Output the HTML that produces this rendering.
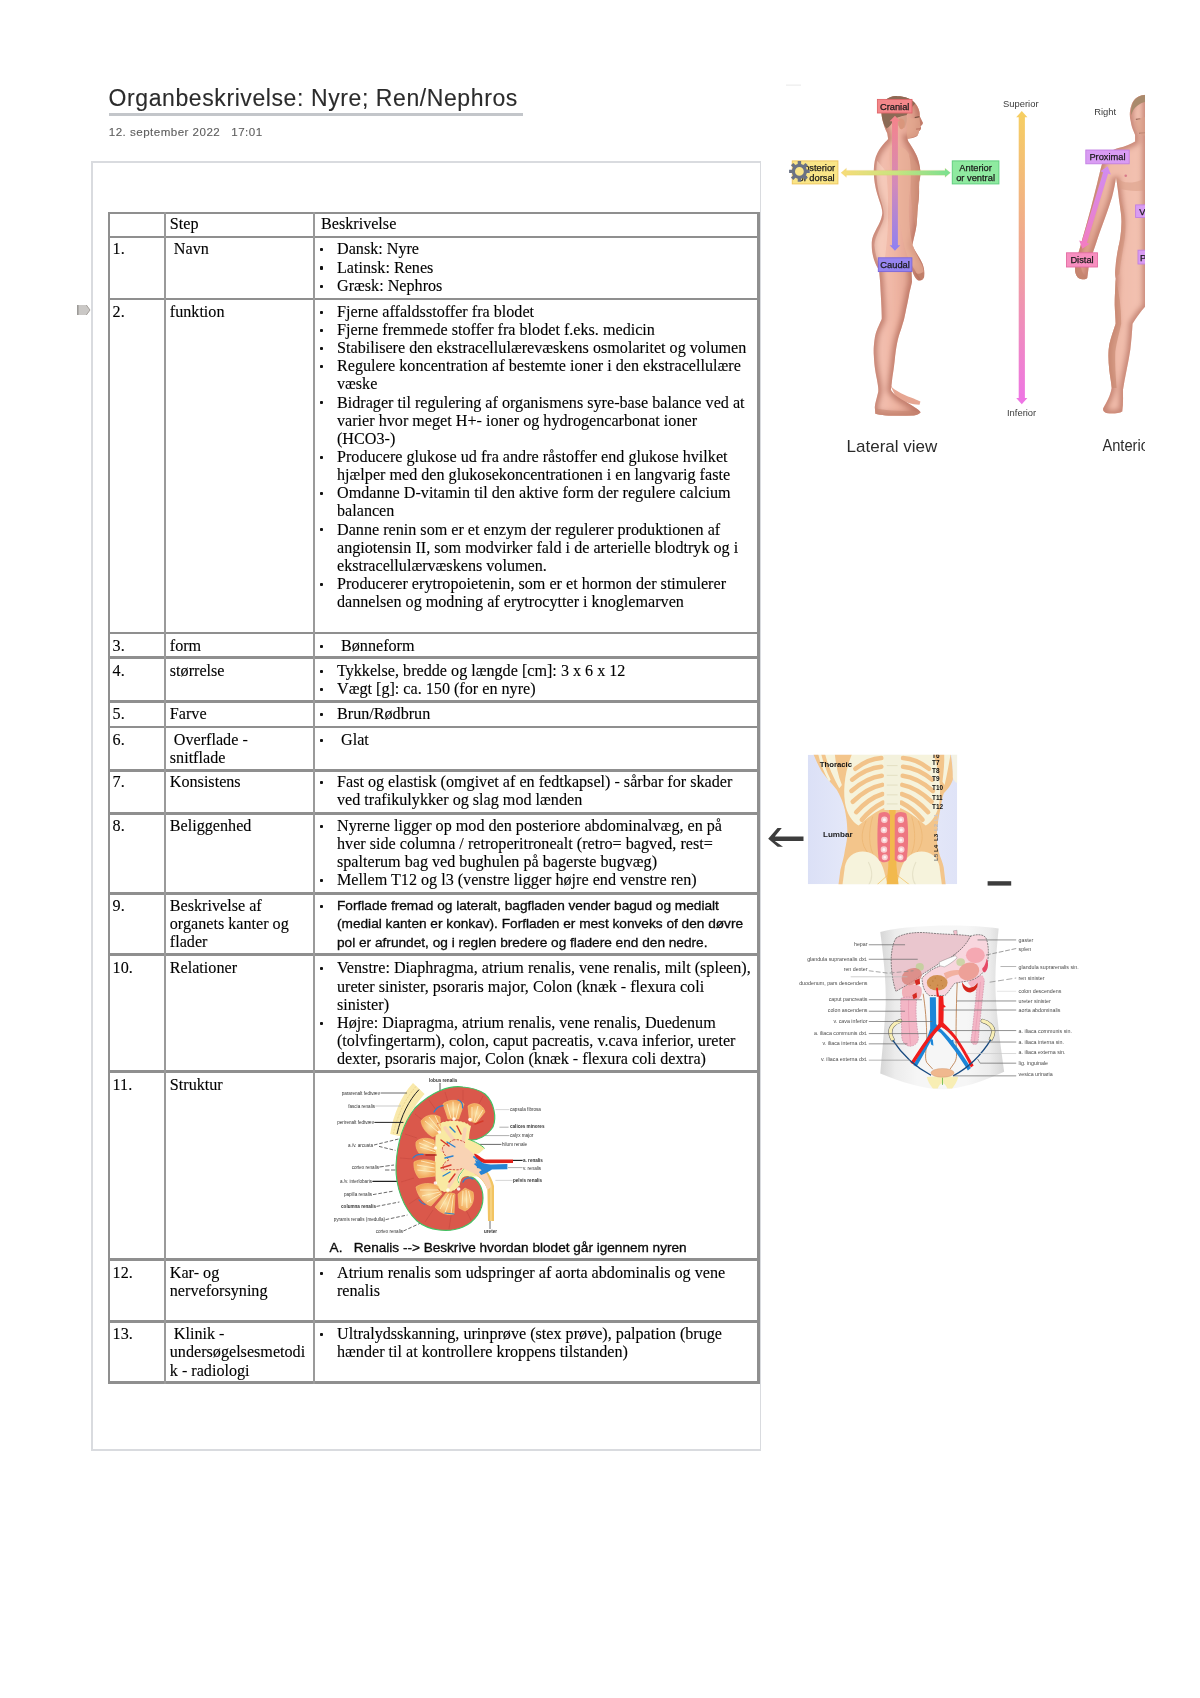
<!DOCTYPE html>
<html lang="da">
<head>
<meta charset="utf-8">
<title>Organbeskrivelse: Nyre; Ren/Nephros</title>
<style>
html,body{margin:0;padding:0;background:#fff;}
body{width:1200px;height:1698px;position:relative;overflow:hidden;font-family:"Liberation Serif",serif;}
#pg{will-change:transform;transform:translateZ(0);}
#pg div{position:absolute;white-space:pre;font-family:"Liberation Serif",serif;-webkit-text-stroke:0.12px currentColor;}
#pg div.s{font-family:"Liberation Sans",sans-serif;}
#pg i{position:absolute;display:block;}
#pg i.b{width:3.1px;height:3.1px;background:#111;border-radius:0.9px;}
#pg svg{position:absolute;overflow:visible;}
</style>
</head>
<body>
<div id="pg">

<div class="s" style="left:108.60px;top:84.13px;font-size:23px;line-height:28px;color:#2b2b2b;letter-spacing:0.59px;">Organbeskrivelse: Nyre; Ren/Nephros</div>
<i style="left:109.00px;top:113.40px;width:414.00px;height:2.20px;background:#c3c6ca"></i>
<div class="s" style="left:108.80px;top:125.48px;font-size:11.6px;line-height:14px;color:#5e5e5e;letter-spacing:0.46px;">12. september 2022   17:01</div>
<i style="left:91.50px;top:161.30px;width:669.70px;height:1.70px;background:#d9dbdf"></i>
<i style="left:91.50px;top:1449.20px;width:669.70px;height:1.70px;background:#d9dbdf"></i>
<i style="left:91.40px;top:161.30px;width:1.80px;height:1289.60px;background:#d9dbdf"></i>
<i style="left:759.70px;top:161.30px;width:1.50px;height:1289.60px;background:#d9dbdf"></i>
<i style="left:107.60px;top:212.00px;width:652.40px;height:1.80px;background:#8f8f8f"></i>
<i style="left:107.60px;top:235.50px;width:652.40px;height:2.50px;background:#8f8f8f"></i>
<i style="left:107.60px;top:297.60px;width:652.40px;height:2.80px;background:#8f8f8f"></i>
<i style="left:107.60px;top:631.60px;width:652.40px;height:2.90px;background:#8f8f8f"></i>
<i style="left:107.60px;top:656.00px;width:652.40px;height:3.30px;background:#8f8f8f"></i>
<i style="left:107.60px;top:700.40px;width:652.40px;height:3.10px;background:#8f8f8f"></i>
<i style="left:107.60px;top:725.50px;width:652.40px;height:2.90px;background:#8f8f8f"></i>
<i style="left:107.60px;top:768.50px;width:652.40px;height:3.10px;background:#8f8f8f"></i>
<i style="left:107.60px;top:811.60px;width:652.40px;height:3.00px;background:#8f8f8f"></i>
<i style="left:107.60px;top:891.50px;width:652.40px;height:3.10px;background:#8f8f8f"></i>
<i style="left:107.60px;top:953.10px;width:652.40px;height:2.90px;background:#8f8f8f"></i>
<i style="left:107.60px;top:1070.00px;width:652.40px;height:2.50px;background:#8f8f8f"></i>
<i style="left:107.60px;top:1258.40px;width:652.40px;height:2.70px;background:#8f8f8f"></i>
<i style="left:107.60px;top:1320.20px;width:652.40px;height:3.30px;background:#8f8f8f"></i>
<i style="left:107.60px;top:1381.00px;width:652.40px;height:3.20px;background:#8f8f8f"></i>
<i style="left:107.60px;top:212.00px;width:2.80px;height:1172.20px;background:#8f8f8f"></i>
<i style="left:164.00px;top:212.00px;width:2.00px;height:1172.20px;background:#9a9a9a"></i>
<i style="left:312.60px;top:212.00px;width:2.30px;height:1172.20px;background:#9a9a9a"></i>
<i style="left:757.00px;top:212.00px;width:3.00px;height:1172.20px;background:#8f8f8f"></i>
<div style="left:169.80px;top:215.47px;font-size:16.15px;line-height:18.15px;color:#000;">Step</div>
<div style="left:321.00px;top:215.47px;font-size:16.15px;line-height:18.15px;color:#000;">Beskrivelse</div>
<div style="left:112.60px;top:240.47px;font-size:16.15px;line-height:18.15px;color:#000;">1.</div>
<div style="left:169.80px;top:240.47px;font-size:16.15px;line-height:18.15px;color:#000;"> Navn</div>
<div style="left:337.00px;top:240.47px;font-size:16.15px;line-height:18.15px;color:#000;">Dansk: Nyre<br>Latinsk: Renes<br>Græsk: Nephros</div>
<i class="b" style="left:319.70px;top:248.30px"></i>
<i class="b" style="left:319.70px;top:266.45px"></i>
<i class="b" style="left:319.70px;top:284.60px"></i>
<div style="left:112.60px;top:302.77px;font-size:16.15px;line-height:18.15px;color:#000;">2.</div>
<div style="left:169.80px;top:302.77px;font-size:16.15px;line-height:18.15px;color:#000;">funktion</div>
<div style="left:337.00px;top:302.77px;font-size:16.15px;line-height:18.15px;color:#000;">Fjerne affaldsstoffer fra blodet<br>Fjerne fremmede stoffer fra blodet f.eks. medicin<br>Stabilisere den ekstracellulærevæskens osmolaritet og volumen<br>Regulere koncentration af bestemte ioner i den ekstracellulære<br>væske<br>Bidrager til regulering af organismens syre-base balance ved at<br>varier hvor meget H+- ioner og hydrogencarbonat ioner<br>(HCO3-)<br>Producere glukose ud fra andre råstoffer end glukose hvilket<br>hjælper med den glukosekoncentrationen i en langvarig faste<br>Omdanne D-vitamin til den aktive form der regulere calcium<br>balancen<br>Danne renin som er et enzym der regulerer produktionen af<br>angiotensin II, som modvirker fald i de arterielle blodtryk og i<br>ekstracellulærvæskens volumen.<br>Producerer erytropoietenin, som er et hormon der stimulerer<br>dannelsen og modning af erytrocytter i knoglemarven</div>
<i class="b" style="left:319.70px;top:310.60px"></i>
<i class="b" style="left:319.70px;top:328.75px"></i>
<i class="b" style="left:319.70px;top:346.90px"></i>
<i class="b" style="left:319.70px;top:365.05px"></i>
<i class="b" style="left:319.70px;top:401.35px"></i>
<i class="b" style="left:319.70px;top:455.80px"></i>
<i class="b" style="left:319.70px;top:492.10px"></i>
<i class="b" style="left:319.70px;top:528.40px"></i>
<i class="b" style="left:319.70px;top:582.85px"></i>
<div style="left:112.60px;top:636.87px;font-size:16.15px;line-height:18.15px;color:#000;">3.</div>
<div style="left:169.80px;top:636.87px;font-size:16.15px;line-height:18.15px;color:#000;">form</div>
<div style="left:337.00px;top:636.87px;font-size:16.15px;line-height:18.15px;color:#000;"> Bønneform</div>
<i class="b" style="left:319.70px;top:644.70px"></i>
<div style="left:112.60px;top:661.67px;font-size:16.15px;line-height:18.15px;color:#000;">4.</div>
<div style="left:169.80px;top:661.67px;font-size:16.15px;line-height:18.15px;color:#000;">størrelse</div>
<div style="left:337.00px;top:661.67px;font-size:16.15px;line-height:18.15px;color:#000;">Tykkelse, bredde og længde [cm]: 3 x 6 x 12<br>Vægt [g]: ca. 150 (for en nyre)</div>
<i class="b" style="left:319.70px;top:669.50px"></i>
<i class="b" style="left:319.70px;top:687.65px"></i>
<div style="left:112.60px;top:705.17px;font-size:16.15px;line-height:18.15px;color:#000;">5.</div>
<div style="left:169.80px;top:705.17px;font-size:16.15px;line-height:18.15px;color:#000;">Farve</div>
<div style="left:337.00px;top:705.17px;font-size:16.15px;line-height:18.15px;color:#000;">Brun/Rødbrun</div>
<i class="b" style="left:319.70px;top:713.00px"></i>
<div style="left:112.60px;top:730.87px;font-size:16.15px;line-height:18.15px;color:#000;">6.</div>
<div style="left:169.80px;top:730.87px;font-size:16.15px;line-height:18.15px;color:#000;"> Overflade -<br>snitflade</div>
<div style="left:337.00px;top:730.87px;font-size:16.15px;line-height:18.15px;color:#000;"> Glat</div>
<i class="b" style="left:319.70px;top:738.70px"></i>
<div style="left:112.60px;top:773.17px;font-size:16.15px;line-height:18.15px;color:#000;">7.</div>
<div style="left:169.80px;top:773.17px;font-size:16.15px;line-height:18.15px;color:#000;">Konsistens</div>
<div style="left:337.00px;top:773.17px;font-size:16.15px;line-height:18.15px;color:#000;">Fast og elastisk (omgivet af en fedtkapsel) - sårbar for skader<br>ved trafikulykker og slag mod lænden</div>
<i class="b" style="left:319.70px;top:781.00px"></i>
<div style="left:112.60px;top:816.87px;font-size:16.15px;line-height:18.15px;color:#000;">8.</div>
<div style="left:169.80px;top:816.87px;font-size:16.15px;line-height:18.15px;color:#000;">Beliggenhed</div>
<div style="left:337.00px;top:816.87px;font-size:16.15px;line-height:18.15px;color:#000;">Nyrerne ligger op mod den posteriore abdominalvæg, en på<br>hver side columna / retroperitronealt (retro= bagved, rest=<br>spalterum bag ved bughulen på bagerste bugvæg)<br>Mellem T12 og l3 (venstre ligger højre end venstre ren)</div>
<i class="b" style="left:319.70px;top:824.70px"></i>
<i class="b" style="left:319.70px;top:879.15px"></i>
<div style="left:112.60px;top:896.97px;font-size:16.15px;line-height:18.15px;color:#000;">9.</div>
<div style="left:169.80px;top:896.97px;font-size:16.15px;line-height:18.15px;color:#000;">Beskrivelse af<br>organets kanter og<br>flader</div>
<div class="s" style="left:337.00px;top:897.29px;font-size:13.66px;line-height:18.15px;color:#0a0a0a;-webkit-text-stroke:0.32px #0a0a0a;">Forflade fremad og lateralt, bagfladen vender bagud og medialt<br>(medial kanten er konkav). Forfladen er mest konveks of den døvre<br>pol er afrundet, og i reglen bredere og fladere end den nedre.</div>
<i class="b" style="left:319.70px;top:904.80px"></i>
<div style="left:112.60px;top:959.37px;font-size:16.15px;line-height:18.15px;color:#000;">10.</div>
<div style="left:169.80px;top:959.37px;font-size:16.15px;line-height:18.15px;color:#000;">Relationer</div>
<div style="left:337.00px;top:959.37px;font-size:16.15px;line-height:18.15px;color:#000;">Venstre: Diaphragma, atrium renalis, vene renalis, milt (spleen),<br>ureter sinister, psoraris major, Colon (knæk - flexura coli<br>sinister)<br>Højre: Diapragma, atrium renalis, vene renalis, Duedenum<br>(tolvfingertarm), colon, caput pacreatis, v.cava inferior, ureter<br>dexter, psoraris major, Colon (knæk - flexura coli dextra)</div>
<i class="b" style="left:319.70px;top:967.20px"></i>
<i class="b" style="left:319.70px;top:1021.65px"></i>
<div style="left:112.60px;top:1075.77px;font-size:16.15px;line-height:18.15px;color:#000;">11.</div>
<div style="left:169.80px;top:1075.77px;font-size:16.15px;line-height:18.15px;color:#000;">Struktur</div>
<div class="s" style="left:329.60px;top:1239.49px;font-size:13.6px;line-height:18px;color:#0a0a0a;-webkit-text-stroke:0.32px #0a0a0a;">A.   Renalis --&gt; Beskrive hvordan blodet går igennem nyren</div>
<div style="left:112.60px;top:1263.97px;font-size:16.15px;line-height:18.15px;color:#000;">12.</div>
<div style="left:169.80px;top:1263.97px;font-size:16.15px;line-height:18.15px;color:#000;">Kar- og<br>nerveforsyning</div>
<div style="left:337.00px;top:1263.97px;font-size:16.15px;line-height:18.15px;color:#000;">Atrium renalis som udspringer af aorta abdominalis og vene<br>renalis</div>
<i class="b" style="left:319.70px;top:1271.80px"></i>
<div style="left:112.60px;top:1325.27px;font-size:16.15px;line-height:18.15px;color:#000;">13.</div>
<div style="left:169.80px;top:1325.27px;font-size:16.15px;line-height:18.15px;color:#000;"> Klinik -<br>undersøgelsesmetodi<br>k - radiologi</div>
<div style="left:337.00px;top:1325.27px;font-size:16.15px;line-height:18.15px;color:#000;">Ultralydsskanning, urinprøve (stex prøve), palpation (bruge<br>hænder til at kontrollere kroppens tilstanden)</div>
<i class="b" style="left:319.70px;top:1333.10px"></i>
<svg style="left:75px;top:303px" width="18" height="14" viewBox="75 303 18 14">
<path d="M77,305 H86.6 L90,310 L86.6,315 H77 Z" fill="#cac8c6"/>
<path d="M77,305 H78.6 V315 H77 Z" fill="#9c9a98"/>
<path d="M86.3,305 L90,310 L86.3,315" fill="none" stroke="#a39e9a" stroke-width="1"/>
</svg>

<svg style="left:785px;top:84px;overflow:hidden" width="360" height="384" viewBox="785 84 360 384" font-family="Liberation Sans, sans-serif">
<defs>
<linearGradient id="skA" x1="0" x2="1" y1="0" y2="0"><stop offset="0" stop-color="#f5c6b8"/><stop offset="0.45" stop-color="#efb5a3"/><stop offset="1" stop-color="#d4927e"/></linearGradient>
<linearGradient id="skB" x1="0" x2="1" y1="0" y2="0"><stop offset="0" stop-color="#dc9c88"/><stop offset="0.5" stop-color="#f0bba9"/><stop offset="1" stop-color="#f3c2b2"/></linearGradient>
<linearGradient id="gV" x1="0" x2="0" y1="0" y2="1"><stop offset="0" stop-color="#f5848a"/><stop offset="0.5" stop-color="#d48ab8"/><stop offset="1" stop-color="#8e80f2"/></linearGradient>
<linearGradient id="gH" x1="0" x2="1" y1="0" y2="0"><stop offset="0" stop-color="#f8dc78"/><stop offset="0.5" stop-color="#c8e480"/><stop offset="1" stop-color="#78e090"/></linearGradient>
<linearGradient id="gS" x1="0" x2="0" y1="0" y2="1"><stop offset="0" stop-color="#f6cf62"/><stop offset="0.45" stop-color="#f0a890"/><stop offset="1" stop-color="#ee74e6"/></linearGradient>
<linearGradient id="gP" x1="0" x2="0" y1="0" y2="1"><stop offset="0" stop-color="#d08cf2"/><stop offset="1" stop-color="#f47cc0"/></linearGradient>
<filter id="bl" x="-5%" y="-5%" width="110%" height="110%"><feGaussianBlur stdDeviation="0.45"/></filter>
<filter id="bl2" x="-5%" y="-5%" width="110%" height="110%"><feGaussianBlur stdDeviation="0.3"/></filter>
<filter id="inb" x="-10%" y="-5%" width="120%" height="110%"><feGaussianBlur stdDeviation="14"/></filter>
</defs>
<rect x="786" y="84.4" width="15" height="1.6" fill="#f1f1f1"/>
<g filter="url(#bl)">
<!-- ===== lateral man (frame A: origin 780,80 zoom 5.4545) ===== -->
<g transform="translate(780,80) scale(0.183333)">
 <!-- far foot -->
 <path d="M590,1640 L613,1679 C630,1692 645,1700 660,1708 C690,1722 710,1730 729,1737 C745,1744 758,1750 766,1754 L761,1772 C740,1770 720,1766 706,1763 C680,1755 650,1740 630,1725 Z" fill="#e6a692"/>
 <!-- body silhouette -->
 <path id="latB" d="M640,88 C590,85 550,120 553,175 C555,220 570,260 585,290 L590,322 C570,345 530,380 517,440 C505,500 515,570 530,620 C545,670 560,700 558,730 C550,790 505,830 500,885 C497,950 520,1010 540,1035 L546,1100 C550,1180 556,1260 555,1303 C540,1340 522,1370 518,1400 C510,1450 510,1480 512,1506 C514,1560 522,1600 528,1630 C533,1660 538,1680 536,1700 C530,1730 518,1760 517,1785 L520,1820 C560,1832 640,1834 729,1830 C748,1826 762,1820 767,1812 C760,1800 720,1775 683,1754 C660,1740 640,1728 630,1720 C618,1708 608,1698 605,1690 C608,1665 611,1640 613,1621 C620,1580 625,1540 628,1506 C632,1470 637,1440 642,1419 C648,1395 654,1378 660,1361 C666,1340 672,1320 677,1303 C682,1282 686,1262 689,1245 C696,1215 702,1185 706,1159 C712,1135 717,1115 720,1100 L716,1020 C722,1050 735,1080 752,1092 C765,1098 780,1092 786,1075 C790,1050 786,1025 776,1000 C762,965 735,935 722,900 C730,860 740,830 745,790 C750,740 748,720 752,690 C760,640 760,600 757,560 C768,530 768,500 762,470 C755,430 745,410 738,398 C725,370 710,350 700,335 L695,320 C720,318 745,312 752,300 L758,280 C770,270 772,262 766,252 C775,245 782,238 778,230 C770,215 765,205 762,195 C765,170 750,140 738,128 C715,100 680,88 640,88 Z" fill="url(#skA)"/>
 <clipPath id="latC"><use href="#latB"/></clipPath>
 <g clip-path="url(#latC)"><use href="#latB" fill="none" stroke="#b8705e" stroke-width="46" filter="url(#inb)" opacity="0.75"/></g>
 <!-- hair -->
 <path d="M640,88 C590,85 550,120 553,175 C555,215 565,245 580,265 C600,255 612,235 620,215 C640,205 660,195 690,192 C700,170 715,150 738,128 C715,100 680,88 640,88 Z" fill="#8b6a54"/>
 <path d="M622,215 C640,205 670,196 690,192 C695,215 690,240 680,260 C660,265 640,250 622,215 Z" fill="#c99a80" opacity="0.6"/>
 <!-- face shading -->
 <path d="M700,200 C720,210 740,215 760,200 L766,252 L752,300 C730,312 710,316 695,320 C690,280 690,240 700,200 Z" fill="#e2a88e" opacity="0.7"/>
 <path d="M650,212 C668,205 684,220 680,245 C676,268 660,275 652,262 C646,250 644,225 650,212 Z" fill="#d9967c"/>
 <path d="M735,205 L760,200" stroke="#6b4a3a" stroke-width="6" fill="none"/>
 <path d="M742,268 L764,266" stroke="#b56a5a" stroke-width="5" fill="none"/>
 <!-- arm (shaded) -->
 <path d="M600,370 C640,350 690,365 705,410 C720,470 715,560 705,640 C700,720 705,800 715,860 C725,920 750,960 770,1000 C785,1030 790,1060 775,1088 C760,1085 745,1050 725,1020 C705,990 680,930 668,860 C655,780 640,700 625,620 C610,540 590,440 600,370 Z" fill="#e9b29a" opacity="0.6"/>
 <path d="M705,410 C735,430 760,470 765,500 C762,560 757,600 752,690 C748,740 748,770 742,800 C735,790 720,700 715,640 C712,560 718,470 705,410 Z" fill="#d2957c" opacity="0.6"/>
 <path d="M735,1048 C745,1075 758,1092 772,1090 C783,1080 787,1062 783,1045 C770,1060 750,1060 735,1048 Z" fill="#b57460" opacity="0.7"/>
 <!-- back highlight -->
 <path d="M530,440 C520,500 530,580 545,640 C560,690 570,720 565,760 C545,820 520,850 515,900 C520,960 540,1010 560,1040 C590,900 600,700 580,500 Z" fill="#fad9ca" opacity="0.45"/>
 <!-- leg highlight / shading -->
 <path d="M520,1790 C560,1800 640,1806 729,1806 L767,1812 C748,1826 740,1828 729,1830 C640,1834 560,1832 520,1820 Z" fill="#c98872" opacity="0.55"/>
 <!-- vertical arrow -->
 <path d="M627,195 L656,225 L643,225 L643,902 L656,902 L627,932 L598,902 L611,902 L611,225 L598,225 Z" fill="url(#gV)"/>
 <!-- horizontal arrow -->
 <path d="M333,506 L362,481 L362,493 L900,493 L900,481 L930,506 L900,531 L900,519 L362,519 L362,531 Z" fill="url(#gH)" stroke="#e8c060" stroke-opacity="0.35" stroke-width="3"/>
 <!-- re-draw part of vertical arrow over horizontal? (original: horizontal passes over) -->
</g>
<!-- labels lateral -->
<rect x="877.4" y="99.4" width="34.6" height="13.6" fill="#f3878a" stroke="#e06468" stroke-width="0.9"/>
<rect x="878.3" y="257.8" width="33.6" height="13.8" fill="#9684ee" stroke="#7a66dc" stroke-width="0.9"/>
<rect x="792.3" y="160.9" width="45.6" height="23" fill="#f9e587" stroke="#f0c860" stroke-width="1"/>
<rect x="952.3" y="160.9" width="46.6" height="23" fill="#8feaa0" stroke="#62cf80" stroke-width="1"/>
<!-- ===== superior/inferior arrow ===== -->
<path d="M1021.8,111 L1027.4,117.3 L1024.9,117.3 L1024.9,398 L1027.4,398 L1021.8,404.2 L1016.2,398 L1018.7,398 L1018.7,117.3 L1016.2,117.3 Z" fill="url(#gS)"/>
<!-- ===== anterior man (frame B: origin 980,80) ===== -->
<g transform="translate(980,80) scale(0.183333)">
 <path id="antB" d="M905,80 C870,80 835,100 825,140 C815,170 815,200 822,225 C826,250 832,268 840,285 L846,300 L846,335 C820,350 790,362 760,370 C720,380 690,400 672,440 C660,470 655,500 640,560 C620,640 590,760 560,860 C545,920 525,980 520,1010 C515,1040 522,1065 535,1078 C555,1090 575,1090 585,1080 C590,1050 592,1020 595,1000 C610,960 630,900 650,840 C680,760 705,690 720,640 C730,600 738,560 742,530 C750,580 755,620 758,650 C765,700 772,740 772,770 C770,820 768,850 762,880 C750,930 742,980 738,1030 C735,1060 738,1075 740,1082 C738,1140 734,1190 735,1230 C736,1270 740,1300 740,1330 C730,1360 715,1400 706,1440 C698,1480 700,1530 705,1580 C710,1620 716,1650 718,1680 C712,1720 690,1760 672,1790 C668,1805 678,1815 695,1818 C725,1822 760,1818 776,1808 C782,1770 780,1730 780,1690 C790,1620 810,1540 820,1470 C826,1420 830,1370 832,1330 C850,1300 875,1265 905,1232 Z" fill="url(#skB)"/>
 <clipPath id="antC"><use href="#antB"/></clipPath>
 <g clip-path="url(#antC)"><use href="#antB" fill="none" stroke="#b8705e" stroke-width="44" filter="url(#inb)" opacity="0.7"/></g>
 <!-- hair -->
 <path d="M905,82 C872,82 840,100 830,135 C824,155 822,175 825,192 C832,168 842,150 858,140 C874,128 890,120 905,118 Z" fill="#a98a6c"/>
 <path d="M850,215 L875,212 M868,290 L900,288" stroke="#8a5a4a" stroke-width="6" fill="none" opacity="0.8"/>
 <!-- face / torso shading -->
 <path d="M840,230 C850,260 860,280 880,300 L905,306 L905,200 C880,205 855,215 840,230 Z" fill="#dba088" opacity="0.6"/>
 <path d="M742,530 C770,560 820,570 880,545 L905,540 L905,600 C860,610 800,605 760,590 Z" fill="#d89c84" opacity="0.5"/>
 <path d="M760,640 C790,700 800,780 790,860 C780,930 765,1000 760,1060 L740,1070 C742,980 750,930 762,880 C770,830 772,790 772,770 C770,720 765,680 760,640 Z" fill="#cf917a" opacity="0.55"/>
 <path d="M740,1090 C760,1160 770,1240 770,1330 C760,1380 745,1430 738,1480 C735,1540 740,1620 745,1680 L720,1680 C716,1650 710,1620 705,1580 C700,1530 698,1480 706,1440 C715,1400 730,1360 740,1330 C740,1300 736,1270 735,1230 C734,1190 738,1140 740,1090 Z" fill="#c98a72" opacity="0.65"/>
 <circle cx="795" cy="522" r="7" fill="#d87a8a"/>
 <!-- hand shading -->
 <path d="M520,1010 C515,1040 522,1065 535,1078 C555,1090 575,1090 585,1080 C570,1070 555,1050 550,1020 Z" fill="#c4846e" opacity="0.8"/>
 <!-- arm arrow -->
 <path d="M696.5,470.7 L714,515.8 L698.7,511.1 L583.1,888 L598.4,892.7 L558.5,920.2 L541,875.1 L556.3,879.8 L671.9,502.9 L656.6,498.2 Z" fill="url(#gP)"/>
</g>
<rect x="1085.8" y="150" width="43.4" height="13.8" fill="#d99cf3" stroke="#c27fe2" stroke-width="0.9"/>
<rect x="1066.5" y="252.8" width="31" height="14.2" fill="#f78fc0" stroke="#e26da2" stroke-width="0.9"/>
<rect x="1135.6" y="204.9" width="14" height="12.6" fill="#d99cf3" stroke="#c27fe2" stroke-width="0.9"/>
<rect x="1138" y="250.2" width="12" height="13.8" fill="#d99cf3" stroke="#c27fe2" stroke-width="0.9"/>
</g>
<!-- label texts -->
<g filter="url(#bl2)" fill="#1a1a1a" font-size="9.3" text-anchor="middle" stroke="#1a1a1a" stroke-width="0.25">
 <text x="894.7" y="109.7">Cranial</text>
 <text x="895.1" y="268.2">Caudal</text>
 <text x="816.6" y="170.8">Posterior</text>
 <text x="816.6" y="181">or dorsal</text>
 <text x="975.6" y="170.8">Anterior</text>
 <text x="975.6" y="181">or ventral</text>
 <text x="1107.5" y="160.4">Proximal</text>
 <text x="1082" y="263.4">Distal</text>
 <text x="1139.2" y="214.8" text-anchor="start">V</text>
 <text x="1140" y="260.8" text-anchor="start">P</text>
</g>
<!-- gear -->
<g transform="translate(799.4,171.4)" fill="#6b7284" filter="url(#bl2)">
 <circle r="5" fill="#f9e587"/>
 <path fill-rule="evenodd" d="M-1.7,-10.3 H1.7 V-7.4 A7.6,7.6 0 0 1 4,-6.4 L6.1,-8.5 L8.5,-6.1 L6.4,-4 A7.6,7.6 0 0 1 7.4,-1.7 H10.3 V1.7 H7.4 A7.6,7.6 0 0 1 6.4,4 L8.5,6.1 L6.1,8.5 L4,6.4 A7.6,7.6 0 0 1 1.7,7.4 V10.3 H-1.7 V7.4 A7.6,7.6 0 0 1 -4,6.4 L-6.1,8.5 L-8.5,6.1 L-6.4,4 A7.6,7.6 0 0 1 -7.4,1.7 H-10.3 V-1.7 H-7.4 A7.6,7.6 0 0 1 -6.4,-4 L-8.5,-6.1 L-6.1,-8.5 L-4,-6.4 A7.6,7.6 0 0 1 -1.7,-7.4 Z M0,-4.4 A4.4,4.4 0 1 0 0,4.4 A4.4,4.4 0 1 0 0,-4.4 Z"/>
</g>
<g filter="url(#bl2)" fill="#3a3a3a" font-size="9.4" text-anchor="middle">
 <text x="1020.8" y="107.4">Superior</text>
 <text x="1021.6" y="415.6">Inferior</text>
 <text x="1105.2" y="115.4">Right</text>
</g>
<g filter="url(#bl2)" fill="#2c2c2c" font-size="17">
 <text x="846.6" y="451.6">Lateral view</text>
 <text x="1102.4" y="450.6" font-size="15.7" textLength="84.8" lengthAdjust="spacingAndGlyphs">Anterior view</text>
</g>
</svg>

<svg style="left:766px;top:752px;overflow:hidden" width="250" height="140" viewBox="766 752 250 140" font-family="Liberation Sans, sans-serif">
<defs>
<linearGradient id="spBg" x1="0" x2="1" y1="0" y2="0"><stop offset="0" stop-color="#dbe0f6"/><stop offset="0.5" stop-color="#eceffb"/><stop offset="1" stop-color="#dfe3f7"/></linearGradient>
<filter id="sbl" x="-5%" y="-5%" width="110%" height="110%"><feGaussianBlur stdDeviation="0.45"/></filter>
<filter id="sbl2" x="-20%" y="-20%" width="140%" height="140%"><feGaussianBlur stdDeviation="0.9"/></filter>
<clipPath id="spClip"><rect x="807.8" y="754.8" width="149.4" height="129.4"/></clipPath>
</defs>
<g clip-path="url(#spClip)">
<rect x="807.8" y="754.8" width="149.4" height="129.4" fill="url(#spBg)"/>
<!-- frame S: origin 760,745 zoom 4.6154 -->
<g transform="translate(760,745) scale(0.216667)" filter="url(#sbl)">
 <!-- torso -->
 <path d="M246,40 L880,40 C886,80 892,120 890,160 C880,190 860,210 848,223 C840,250 836,270 834,289 C828,320 823,340 821,363 C817,390 815,415 816,436 C818,465 824,490 830,510 C838,530 844,548 848,565 L858,653 L361,653 L371,577 C380,545 388,515 392,485 C400,450 404,420 403,392 C402,360 398,330 392,300 C384,265 370,235 355,208 C330,175 305,150 285,122 C270,95 258,70 246,40 Z" fill="#f3c58b"/>
 <path d="M884,40 L912,40 L912,176 C900,172 893,162 890,150 C892,110 888,75 884,40 Z" fill="#f4f2e3"/>
 <!-- arms gap stripes (scapula / humerus cream) -->
 <path d="M268,40 L282,40 C292,80 306,120 326,160 L318,168 C296,128 278,84 268,40 Z" fill="#f6f3dc"/>
 <path d="M300,40 L345,40 C350,90 360,140 378,185 L366,200 C340,150 315,100 300,40 Z" fill="#f6f3dc"/>
 <path d="M850,40 L880,40 C872,90 862,140 852,185 L842,170 C848,120 852,80 850,40 Z" fill="#f6f3dc"/>
 <!-- rib cage (cream) -->
 <path d="M425,40 L800,40 C824,110 838,190 828,265 C820,315 795,355 765,372 C725,335 680,305 650,292 L570,292 C540,305 495,335 455,372 C425,355 400,315 392,265 C382,190 396,110 425,40 Z" fill="#f6f3dc"/>
 <!-- rib gaps (tan) left -->
 <g fill="none" stroke="#f2c38a" stroke-width="21" stroke-linecap="round">
  <path d="M560,60 C520,62 480,78 440,110"/>
  <path d="M560,100 C515,104 470,124 425,160"/>
  <path d="M562,142 C515,148 468,172 422,212"/>
  <path d="M564,184 C520,192 472,220 428,262"/>
  <path d="M566,226 C526,238 482,268 444,310"/>
  <path d="M568,266 C536,282 500,310 470,345"/>
  <path d="M660,60 C700,62 740,78 780,110"/>
  <path d="M660,100 C705,104 750,124 795,160"/>
  <path d="M658,142 C705,148 752,172 798,212"/>
  <path d="M656,184 C700,192 748,220 792,262"/>
  <path d="M654,226 C694,238 738,268 776,310"/>
  <path d="M652,266 C684,282 720,310 750,345"/>
 </g>
 <!-- spine cream column top -->
 <path d="M572,40 L648,40 L646,300 L574,300 Z" fill="#f3f1dc"/>
 <g stroke="#e4e0c4" stroke-width="5" fill="none"><path d="M585,95 H635"/><path d="M585,140 H635"/><path d="M585,185 H635"/><path d="M585,230 H635"/><path d="M585,272 H635"/></g>
 <!-- abdominal thin lines -->
 <g fill="none" stroke="#e9ae68" stroke-width="3" opacity="0.8">
  <path d="M520,330 C500,400 500,470 530,520"/><path d="M490,350 C462,410 466,460 500,500"/>
  <path d="M700,330 C720,400 720,470 690,520"/><path d="M730,350 C758,410 754,460 720,500"/>
 </g>
 <!-- pelvis cream -->
 <path d="M392,560 C400,510 450,480 500,495 C540,508 560,540 572,580 L590,650 L380,650 C384,620 388,590 392,560 Z" fill="#f6f3dc"/>
 <path d="M828,560 C820,510 770,480 720,495 C680,508 660,540 648,580 L630,650 L840,650 C836,620 832,590 828,560 Z" fill="#f6f3dc"/>
 <g fill="none" stroke="#e6e2c8" stroke-width="5"><path d="M500,540 C520,580 520,620 500,650"/><path d="M720,540 C700,580 700,620 720,650"/></g>
 <!-- lumbar spine orange -->
 <path d="M596,300 L626,300 L630,560 L640,650 L584,650 L592,560 Z" fill="#f2b94e"/>
 <g fill="none" stroke="#f2b94e" stroke-width="3"><path d="M590,600 L540,645"/><path d="M632,600 L690,645"/></g>
 <!-- red highlights -->
 <g filter="url(#sbl2)">
  <path d="M548,318 C560,305 596,305 600,325 L600,530 C590,545 555,545 548,528 C540,480 540,360 548,318 Z" fill="#ee7682"/>
  <path d="M622,325 C626,305 664,305 676,318 C686,360 686,480 676,528 C668,545 632,545 622,530 Z" fill="#ee7682"/>
  <g fill="#fff" opacity="0.92" stroke="#fbd5d8" stroke-width="8">
   <circle cx="574" cy="345" r="11"/><circle cx="572" cy="392" r="11"/><circle cx="574" cy="438" r="11"/><circle cx="572" cy="482" r="11"/><circle cx="576" cy="518" r="10"/>
   <circle cx="650" cy="345" r="11"/><circle cx="652" cy="392" r="11"/><circle cx="650" cy="438" r="11"/><circle cx="652" cy="482" r="11"/><circle cx="648" cy="518" r="10"/>
  </g>
 </g>
</g>
<!-- labels -->
<g filter="url(#sbl)" fill="#111" font-size="7" font-weight="bold">
 <text x="819.8" y="767.2" font-size="7.6" textLength="32.2" lengthAdjust="spacingAndGlyphs">Thoracic</text>
 <text x="823" y="836.7" font-size="7.4" textLength="29.6" lengthAdjust="spacingAndGlyphs" fill="#1c1c1c">Lumbar</text>
 <g font-size="6.4" font-weight="bold">
  <text x="932" y="758.2">T6</text><text x="932" y="765.4">T7</text><text x="932" y="773">T8</text><text x="932" y="780.9">T9</text>
  <text x="932" y="790.1">T10</text><text x="932" y="799.6">T11</text><text x="932" y="809.2">T12</text>
 </g>
 <g font-size="6.2" font-weight="bold">
  <text transform="translate(938.4,821) rotate(-90)" fill="#c9c9cf">L1</text><text transform="translate(938.4,831) rotate(-90)" fill="#b9b9c0">L2</text>
  <text transform="translate(938.4,841) rotate(-90)" fill="#111">L3</text><text transform="translate(938.4,852) rotate(-90)" fill="#111">L4</text>
  <text transform="translate(938.4,861) rotate(-90)" fill="#666">L5</text>
 </g>
</g>
</g>
<!-- arrow and dash -->
<g filter="url(#sbl)">
<path d="M768.2,838.8 L777.5,828.1 L781.8,828.1 L774.8,836.6 L803.5,836.6 L803.5,841 L774.8,841 L783,846.8 L777.6,846.8 Z" fill="#3c3c3c"/>
<rect x="987.6" y="881.2" width="23.6" height="4.4" fill="#3d3d3d"/>
</g>
</svg>

<svg style="left:795px;top:918px;overflow:hidden" width="300" height="182" viewBox="795 918 300 182" font-family="Liberation Sans, sans-serif">
<defs>
<linearGradient id="abT" x1="0" x2="1" y1="0" y2="0"><stop offset="0" stop-color="#d6d6d6"/><stop offset="0.12" stop-color="#ececec"/><stop offset="0.3" stop-color="#f6f6f6"/><stop offset="0.7" stop-color="#f6f6f6"/><stop offset="0.88" stop-color="#ececec"/><stop offset="1" stop-color="#d6d6d6"/></linearGradient>
<filter id="abl" x="-5%" y="-5%" width="110%" height="110%"><feGaussianBlur stdDeviation="0.4"/></filter>
<filter id="abl2" x="-5%" y="-20%" width="110%" height="140%"><feGaussianBlur stdDeviation="0.35"/></filter>
</defs>
<g filter="url(#abl)">
<!-- frame E: origin 870,920 zoom 8.2759 -->
<g transform="translate(870,920) scale(0.120833)">
 <!-- torso -->
 <path d="M85,100 C300,40 800,30 1065,70 C1040,300 1030,500 1045,700 C1060,900 1090,1100 1110,1255 C950,1330 750,1400 600,1400 C450,1400 250,1340 85,1270 C100,1100 120,900 130,700 C135,500 110,300 85,100 Z" fill="url(#abT)"/>
 <!-- duodenum / right kidney region -->
 <path d="M270,560 C300,530 400,520 425,560 C435,600 425,640 400,655 L280,650 C262,620 260,590 270,560 Z" fill="#f1b0b8"/>
 <!-- ascending colon -->
 <path d="M255,650 C290,630 360,635 385,660 C375,760 385,860 400,960 C405,1010 380,1040 330,1045 C290,1040 265,1010 262,960 C265,860 250,760 255,650 Z" fill="#f3b6c6" stroke="#c888a0" stroke-width="5" stroke-dasharray="14 8"/>
 <path d="M320,660 C315,780 325,900 335,1030" stroke="#e898b0" stroke-width="6" fill="none"/>
 <!-- descending colon -->
 <path d="M900,470 C930,460 950,480 945,520 C930,640 920,760 905,880 C900,940 900,990 890,1020 C870,1040 840,1030 835,1000 C850,900 860,780 875,660 C880,600 885,530 900,470 Z" fill="#f3b6c6" stroke="#c888a0" stroke-width="5" stroke-dasharray="14 8"/>
 <path d="M915,500 C900,680 880,860 862,1020" stroke="#e898b0" stroke-width="5" fill="none"/>
 <path d="M810,520 C850,480 900,455 935,460 L945,500 C910,510 870,530 840,560 Z" fill="#f3b6c6"/>
 <!-- ureters -->
 <g fill="none" stroke="#b97a48" stroke-width="7">
  <path d="M440,610 C455,700 470,850 470,1000 C465,1080 450,1140 470,1180 L520,1235"/>
  <path d="M722,520 C715,650 712,850 712,1000 C715,1090 725,1140 700,1180 L662,1235"/>
 </g>
 <!-- stomach -->
 <path d="M830,135 C880,115 940,115 960,150 C985,200 985,320 965,380 C950,430 900,480 830,500 C780,512 730,515 700,525 C670,560 650,600 620,625 L490,625 C455,600 435,560 430,480 C470,440 520,400 570,385 C640,340 720,290 830,135 Z" fill="#f8d6de" stroke="#444" stroke-width="5" stroke-dasharray="16 7"/>
 <path d="M690,90 L720,85 L722,130 L700,135 Z" fill="#f3c0cc" stroke="#777" stroke-width="3"/>
 <path d="M700,140 C720,180 740,200 770,215" stroke="#e8b0c0" stroke-width="14" fill="none"/>
 <!-- liver -->
 <path d="M215,150 C280,105 400,95 520,110 C640,120 760,120 832,132 C800,200 750,250 690,292 C650,330 600,350 570,362 C520,395 480,420 440,445 C400,475 360,505 330,522 C290,548 250,570 215,590 C195,540 180,450 176,370 C172,280 185,200 215,150 Z" fill="#eac6ce" stroke="#444" stroke-width="5" stroke-dasharray="16 7"/>
 <!-- lesser omentum white gap -->
 <path d="M572,350 C610,330 660,312 705,295 L722,312 C690,345 650,372 615,388 L575,378 Z" fill="#fdfdfd" stroke="#666" stroke-width="3"/>
 <!-- adrenals -->
 <ellipse cx="412" cy="388" rx="34" ry="32" fill="#c3cf9c" opacity="0.9"/>
 <ellipse cx="750" cy="348" rx="36" ry="32" fill="#c9d4a2" opacity="0.9"/>
 <!-- spleen -->
 <ellipse cx="872" cy="292" rx="78" ry="64" fill="#f4a4ae" opacity="0.92"/>
 <path d="M965,320 C985,350 980,410 950,435 C935,430 925,415 930,400 C950,380 960,350 965,320 Z" fill="#e64a66"/>
 <!-- kidneys -->
 <ellipse cx="345" cy="468" rx="88" ry="66" transform="rotate(-28 345 468)" fill="#d9827a" opacity="0.8"/>
 <ellipse cx="818" cy="425" rx="88" ry="72" transform="rotate(-20 818 425)" fill="#eb968c" opacity="0.85"/>
 <path d="M370,500 L410,485 L415,530 L380,540 Z" fill="#d62a22"/>
 <path d="M350,620 L385,600 L390,640 L360,655 Z" fill="#d62a22"/>
 <path d="M762,515 C760,560 790,600 830,600 C870,595 895,560 890,520 C870,550 840,565 815,560 C790,550 775,535 762,515 Z" fill="#d6281e"/>
 <!-- pancreas duct area -->
 <path d="M610,440 C660,420 700,410 740,415 L745,450 C700,455 660,470 630,490 Z" fill="#f0a890" opacity="0.8"/>
 <!-- pancreas head -->
 <ellipse cx="556" cy="520" rx="86" ry="64" fill="#d19252"/>
 <g fill="#b87838"><circle cx="520" cy="505" r="6"/><circle cx="560" cy="540" r="6"/><circle cx="590" cy="500" r="5"/><circle cx="540" cy="480" r="5"/><circle cx="600" cy="545" r="5"/><circle cx="500" cy="540" r="5"/></g>
 <!-- vena cava -->
 <path d="M495,640 L545,640 L548,860 C560,880 575,890 590,905 C680,990 760,1100 835,1225 L810,1245 C740,1130 660,1020 585,935 C570,920 555,915 545,920 C500,1010 440,1120 385,1215 L358,1200 C410,1110 470,1000 498,900 Z" fill="#1b86d8"/>
 <!-- aorta -->
 <path d="M568,630 L606,630 L610,700 L628,720 L610,725 L608,850 C640,880 680,920 710,960 C760,1030 810,1120 858,1205 L835,1220 C790,1130 740,1040 690,975 C660,935 625,905 590,885 C560,915 520,960 490,1000 C440,1070 395,1140 360,1195 L335,1182 C375,1120 420,1050 470,980 C505,930 545,890 566,860 Z" fill="#f01a1a"/>
 <path d="M548,560 L560,560 L572,635 L552,635 Z" fill="#f01a1a"/>
 <path d="M498,985 L520,990 L525,1040 L505,1030 Z M690,990 L668,1000 L672,1045 L692,1030 Z" fill="#1b86d8"/>
 <!-- iliac crests -->
 <g fill="none" stroke-linecap="round">
  <path d="M250,835 C200,850 165,890 168,930 C170,955 178,975 188,990" stroke="#555" stroke-width="34"/>
  <path d="M250,835 C200,850 165,890 168,930 C170,955 178,975 188,990" stroke="#f8eeb4" stroke-width="26"/>
  <path d="M932,835 C985,848 1022,885 1020,925 C1018,950 1010,970 1000,985" stroke="#555" stroke-width="34"/>
  <path d="M932,835 C985,848 1022,885 1020,925 C1018,950 1010,970 1000,985" stroke="#f8eeb4" stroke-width="26"/>
 </g>
 <!-- inguinal ligaments -->
 <g fill="none" stroke="#184a80" stroke-width="11">
  <path d="M188,995 C270,1120 380,1220 505,1285"/>
  <path d="M1000,990 C920,1120 810,1225 688,1290"/>
 </g>
 <!-- pubis + bladder -->
 <path d="M470,1300 C540,1290 660,1290 730,1300 C720,1340 700,1370 680,1395 L640,1395 C630,1370 615,1355 600,1350 C585,1355 570,1370 560,1395 L520,1395 C500,1370 480,1340 470,1300 Z" fill="#f8eeb4"/>
 <path d="M600,1305 V1365" stroke="#78c058" stroke-width="8"/>
 <ellipse cx="600" cy="1265" rx="96" ry="36" fill="#f0b88e" stroke="#c89068" stroke-width="3"/>
 <!-- leader lines left -->
 <g stroke="#6a6a6a" stroke-width="6" fill="none">
  <path d="M-10,205 H290"/><path d="M-10,325 H395"/><path d="M-10,420 L150,440 L360,420" stroke-dasharray="40 18" stroke="#888"/>
  <path d="M-160,470 H310" stroke="#bbb"/><path d="M-10,660 H430"/><path d="M-10,755 H290"/><path d="M-10,840 H515"/>
  <path d="M-10,940 H470"/><path d="M-10,1025 H310"/><path d="M-10,1160 H330" stroke="#999"/>
  <path d="M890,165 H1210"/><path d="M960,290 L1210,236" stroke-dasharray="40 14" stroke="#777"/><path d="M1080,385 H1210" stroke="#999"/>
  <path d="M990,515 L1210,480" stroke-dasharray="50 20" stroke="#888"/><path d="M1050,590 H1210" stroke="#ddd"/>
  <path d="M720,670 H1210"/><path d="M600,745 H1210"/><path d="M640,915 H1210"/><path d="M700,1010 H1210"/>
  <path d="M800,1105 H1210" stroke="#ccc"/><path d="M890,1150 L912,1185 H1210"/><path d="M690,1290 H1210"/>
 </g>
</g>
</g>
<!-- labels -->
<g filter="url(#abl2)" fill="#4a4a4a" font-size="5.3" text-anchor="end">
 <text x="867.5" y="946.4">hepar</text>
 <text x="867.5" y="961">glandula suprarenalis dxt.</text>
 <text x="867.5" y="971.4">ren dexter</text>
 <text x="867.5" y="984.8">duodenum, pars descendens</text>
 <text x="867.5" y="1001.2">caput pancreatis</text>
 <text x="867.5" y="1012.4">colon ascendens</text>
 <text x="867.5" y="1023">v. cava inferior</text>
 <text x="867.5" y="1035.4">a. iliaca communis dxt.</text>
 <text x="867.5" y="1045.2">v. iliaca interna dxt.</text>
 <text x="867.5" y="1061.4">v. iliaca externa dxt.</text>
</g>
<g filter="url(#abl2)" fill="#4a4a4a" font-size="5.3">
 <text x="1018.6" y="942">gaster</text>
 <text x="1018.6" y="950.8">splen</text>
 <text x="1018.6" y="969">glandula suprarenalis sin.</text>
 <text x="1018.6" y="980">ren sinister</text>
 <text x="1018.6" y="993">colon descendens</text>
 <text x="1018.6" y="1002.8">ureter sinister</text>
 <text x="1018.6" y="1011.8">aorta abdominalis</text>
 <text x="1018.6" y="1032.6">a. iliaca communis sin.</text>
 <text x="1018.6" y="1043.8">a. iliaca interna sin.</text>
 <text x="1018.6" y="1054.2">a. iliaca externa sin.</text>
 <text x="1018.6" y="1064.6">lig. inguinale</text>
 <text x="1018.6" y="1076">vesica urinaria</text>
</g>
</svg>

<svg style="left:322px;top:1074px;overflow:hidden" width="250" height="166" viewBox="322 1074 250 166" font-family="Liberation Sans, sans-serif">
<defs>
<filter id="kbl" x="-5%" y="-5%" width="110%" height="110%"><feGaussianBlur stdDeviation="0.4"/></filter>
<filter id="kbl2" x="-5%" y="-20%" width="110%" height="140%"><feGaussianBlur stdDeviation="0.35"/></filter>
<radialGradient id="pyr" cx="0.5" cy="0.5" r="0.5"><stop offset="0" stop-color="#fbe2a6"/><stop offset="1" stop-color="#f2a658"/></radialGradient>
<clipPath id="kidClip"><path d="M690,65 C620,55 530,90 450,170 C395,240 360,340 355,460 C352,560 390,670 460,735 C520,785 620,795 690,765 C750,740 790,680 790,620 C790,570 765,520 720,510 C690,505 668,522 672,548 C640,520 700,470 730,440 C700,400 690,350 720,330 C760,335 810,310 840,265 C860,215 845,140 800,100 C765,75 725,68 690,65 Z"/></clipPath>
</defs>
<g filter="url(#kbl)">
<!-- frame K: origin 325,1074 zoom 5 -->
<g transform="translate(325,1074) scale(0.2)">
 <!-- perirenal fat -->
 <path d="M440,45 L498,100 C445,160 405,225 382,312 L326,300 C343,200 380,108 440,45 Z" fill="#f9e9ab"/>
 <path d="M470,78 C420,130 380,210 360,300" fill="none" stroke="#222" stroke-width="5"/>
 <path d="M455,62 C400,125 362,205 342,298" fill="none" stroke="#e8d088" stroke-width="4" stroke-dasharray="10 6"/>
 <!-- leader lines -->
 <g fill="none" stroke="#444" stroke-width="4">
  <path d="M278,95 H410"/><path d="M252,160 H380" stroke="#bbb"/><path d="M247,242 H392" stroke-width="5" stroke="#222"/>
  <path d="M245,355 L380,322 M270,362 L352,382" stroke-dasharray="18 9"/>
  <path d="M272,465 L345,455 M300,480 H352" stroke-dasharray="22 8"/>
  <path d="M237,537 H450 L545,500" stroke-width="6" stroke="#222"/>
  <path d="M240,603 L345,585" stroke-dasharray="18 9"/><path d="M258,662 L372,640" stroke-dasharray="18 9"/>
  <path d="M303,728 L412,705" stroke-dasharray="18 9"/><path d="M392,785 L485,742" stroke-dasharray="18 9"/>
  <path d="M575,45 V140" stroke="#222"/>
  <path d="M922,178 H852" stroke="#ccc"/><path d="M918,266 H872" stroke="#999"/><path d="M922,308 H800" stroke="#999"/><path d="M882,352 H750"/>
  <path d="M988,432 H940" stroke-width="6" stroke="#222"/><path d="M988,468 H915" stroke="#999"/><path d="M938,532 H852" stroke="#ccc"/><path d="M825,735 V775"/>
 </g>
 <!-- ureter + pelvis tail -->
 <path d="M740,420 C790,450 830,500 845,560 L845,735 L815,735 L812,580 C800,540 770,510 740,500 Z" fill="#f2c462"/>
 <path d="M770,470 C800,490 822,520 830,560 L830,735" fill="none" stroke="#f8d78c" stroke-width="7"/>
 <!-- kidney body -->
 <path d="M690,65 C620,55 530,90 450,170 C395,240 360,340 355,460 C352,560 390,670 460,735 C520,785 620,795 690,765 C750,740 790,680 790,620 C790,570 765,520 720,510 C690,505 668,522 672,548 C640,520 700,470 730,440 C700,400 690,350 720,330 C760,335 810,310 840,265 C860,215 845,140 800,100 C765,75 725,68 690,65 Z" fill="#da584b" stroke="#3fc463" stroke-width="5.5"/>
 <g clip-path="url(#kidClip)">
  <!-- cortex radial fine lines -->
  <g stroke="#c2463c" stroke-width="3" fill="none" opacity="0.8">
   <path d="M600,90 L615,140"/><path d="M520,130 L555,180"/><path d="M450,200 L500,240"/><path d="M400,300 L460,320"/><path d="M375,420 L440,425"/><path d="M380,540 L445,520"/><path d="M420,650 L480,610"/><path d="M500,740 L540,680"/><path d="M620,775 L630,710"/><path d="M730,730 L705,680"/><path d="M690,80 L690,130"/><path d="M790,110 L770,150"/>
  </g>
  <!-- sinus (yellow) -->
  <path d="M560,250 C610,225 690,225 730,260 C720,300 715,330 730,360 C760,390 760,430 735,450 C700,480 680,520 672,560 C640,600 590,600 560,570 C545,520 548,300 560,250 Z" fill="#f9e9a2"/>
  <!-- pyramids -->
  <g fill="url(#pyr)" stroke="#f6c878" stroke-width="3">
   <path d="M590,150 C620,125 665,125 695,150 L668,225 L615,225 Z"/>
   <path d="M715,160 C745,135 790,150 800,190 L755,245 L722,235 Z"/>
   <path d="M480,235 C500,205 545,195 575,215 L580,290 L540,315 C510,300 485,270 480,235 Z"/>
   <path d="M455,340 C470,320 510,315 545,330 L555,400 L470,395 C458,380 452,360 455,340 Z"/>
   <path d="M445,440 C470,425 520,425 552,440 L552,510 L470,520 C452,500 442,470 445,440 Z"/>
   <path d="M455,565 C480,545 530,540 565,560 L585,600 L530,660 C495,650 462,610 455,565 Z"/>
   <path d="M550,665 L610,590 L650,600 L645,700 C610,710 575,695 550,665 Z"/>
   <path d="M665,600 L700,570 L740,590 C750,630 735,670 700,685 L670,670 Z"/>
  </g>
  <!-- pyramid striations -->
  <g stroke="#fdecc0" stroke-width="5" fill="none" opacity="0.9">
   <path d="M610,150 L630,220 M640,138 L642,222 M672,148 L655,222"/><path d="M735,165 L735,235 M765,160 L745,240 M790,180 L752,242"/>
   <path d="M500,235 L565,290 M520,215 L572,280 M550,208 L578,268"/><path d="M470,345 L548,375 M475,365 L550,388 M490,330 L548,355"/>
   <path d="M460,455 L548,470 M462,480 L550,490 M480,435 L548,450"/><path d="M475,580 L570,580 M485,610 L575,590 M510,640 L580,598"/>
   <path d="M575,675 L618,600 M600,695 L632,602 M630,700 L642,605"/><path d="M685,660 L690,585 M710,670 L705,580 M730,645 L718,585"/>
  </g>
  <!-- pelvis (peach) -->
  <path d="M640,330 C680,320 720,350 745,395 C775,430 800,470 812,520 L760,500 C740,470 720,455 690,470 C660,490 630,470 600,480 C580,470 590,440 620,430 C600,410 580,380 590,360 C610,350 625,340 640,330 Z" fill="#f9d3b4"/>
  <path d="M600,270 L650,340 M585,380 L640,400 M590,480 L650,440 M620,560 L680,470 M700,275 L690,340" stroke="#f9d3b4" stroke-width="18" fill="none" stroke-linecap="round"/>
  <path d="M640,330 C680,320 720,350 745,395 C775,430 800,470 812,520 M760,500 C740,470 720,455 690,470 C660,490 630,470 600,480 C580,470 590,440 620,430 C600,410 580,380 590,360 C610,350 625,340 640,330" fill="none" stroke="#c8362a" stroke-width="4" stroke-dasharray="12 6"/>
  <path d="M560,250 C610,225 690,225 730,260 M672,560 C640,600 590,600 560,570" fill="none" stroke="#c8362a" stroke-width="4" stroke-dasharray="10 8" opacity="0.8"/>
  <!-- small vessels in sinus -->
  <g fill="none" stroke-width="7" stroke-linecap="round">
   <path d="M610,340 L650,365" stroke="#2a82cf"/><path d="M600,420 L640,410" stroke="#2a82cf"/><path d="M625,265 L650,290" stroke="#2a82cf"/><path d="M590,510 L625,490" stroke="#2a82cf"/><path d="M690,540 C700,520 720,515 740,525" stroke="#2a82cf"/>
   <path d="M580,330 L620,360" stroke="#d63a2a"/><path d="M580,470 L630,455" stroke="#d63a2a"/><path d="M660,260 L680,300" stroke="#d63a2a"/><path d="M620,540 L650,500" stroke="#d63a2a"/><path d="M750,250 L790,235" stroke="#d63a2a"/>
   <path d="M545,190 C555,170 570,160 590,158" stroke="#2a82cf" stroke-width="6"/><path d="M665,130 C680,135 690,150 688,170" stroke="#2a82cf" stroke-width="6"/>
   <path d="M440,420 C450,405 470,400 490,402" stroke="#2a82cf" stroke-width="6"/><path d="M470,630 C480,645 490,650 500,652" stroke="#2a82cf" stroke-width="6"/><path d="M600,695 L645,700" stroke="#2a82cf" stroke-width="6"/>
   <path d="M505,405 H555" stroke="#b02a22" stroke-width="8"/>
  </g>
  <g fill="#fff" opacity="0.85"><circle cx="645" cy="225" r="9"/><circle cx="725" cy="228" r="9"/><circle cx="572" cy="290" r="9"/><circle cx="552" cy="370" r="9"/><circle cx="552" cy="545" r="9"/><circle cx="615" cy="580" r="9"/><circle cx="668" cy="575" r="9"/></g>
 </g>
 <!-- hilum fill: fat + pelvis funnel -->
 <path d="M708,322 C745,335 780,352 798,372 L770,398 L748,400 L748,500 L770,512 L722,512 C700,505 676,520 672,548 C660,520 690,480 720,450 C700,410 690,350 708,322 Z" fill="#f9e9a2"/>
 <path d="M690,360 C730,380 760,420 785,460 C810,495 826,530 830,565 L812,580 C800,540 780,515 750,500 C730,490 705,480 690,470 Z" fill="#f9d3b4"/>
 <path d="M716,326 C750,338 782,355 798,372" fill="none" stroke="#3fc463" stroke-width="5"/>
 <!-- renal artery + vein -->
 <path d="M745,400 C760,395 775,420 800,428 L940,428 L940,445 L800,446 C770,440 755,425 745,400 Z" fill="#e0221c"/>
 <path d="M750,430 C775,440 800,452 830,452 L912,450 L912,476 L835,478 C815,490 800,500 780,505 L770,490 L792,475 L760,470 L758,455 Z" fill="#2584d4"/>
 <path d="M742,412 L790,452 M748,448 L790,480" stroke="#2584d4" stroke-width="9" fill="none"/>
</g>
</g>
<!-- labels -->
<g filter="url(#kbl2)" fill="#333" font-size="4.6" text-anchor="end">
 <text x="380" y="1094.6">pararenalt fedtvæv</text>
 <text x="375" y="1107.6">fascia renalis</text>
 <text x="374" y="1124">perirenalt fedtvæv</text>
 <text x="373" y="1147">a./v. arcuata</text>
 <text x="379" y="1169">cortex renalis</text>
 <text x="372" y="1183">a./v. interlobaris</text>
 <text x="372" y="1196.2">papilla renalis</text>
 <text x="376" y="1208" font-weight="bold">columna renalis</text>
 <text x="385" y="1221.2">pyramis renalis (medulla)</text>
 <text x="403" y="1232.6">cortex renalis</text>
</g>
<g filter="url(#kbl2)" fill="#333" font-size="4.6">
 <text x="429" y="1082" font-weight="bold">lobus renalis</text>
 <text x="510" y="1111.2">capsula fibrosa</text>
 <text x="510" y="1128.4" font-weight="bold">calices minores</text>
 <text x="510" y="1137.2">calyx major</text>
 <text x="502" y="1146">hilum renale</text>
 <text x="523" y="1162" font-weight="bold">a. renalis</text>
 <text x="523" y="1169.6">v. renalis</text>
 <text x="513" y="1182" font-weight="bold">pelvis renalis</text>
 <text x="484" y="1232.6" font-weight="bold">ureter</text>
</g>
</svg>

</div>
</body>
</html>
